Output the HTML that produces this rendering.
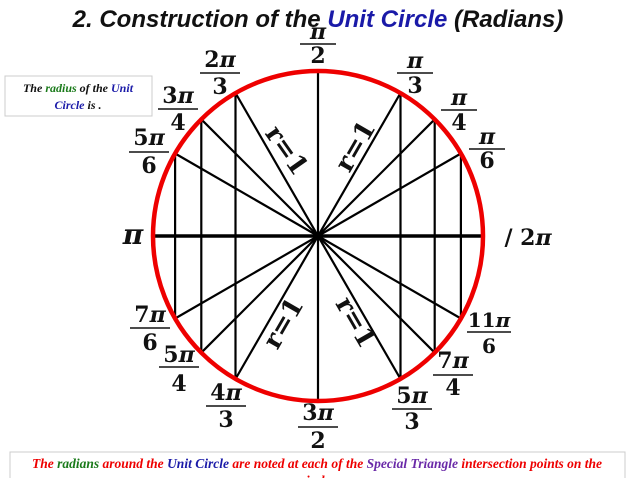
<!DOCTYPE html>
<html><head><meta charset="utf-8"><style>
body{margin:0;width:638px;height:478px;overflow:hidden;background:#fff}
svg{display:block}
</style></head><body>
<svg width="638" height="478" viewBox="0 0 638 478" xmlns="http://www.w3.org/2000/svg">
<text x="318" y="27" text-anchor="middle" font-family="Liberation Sans, sans-serif" font-size="24" font-weight="bold" font-style="italic" fill="#111">2.  Construction of the <tspan fill="#1a1aa8">Unit Circle</tspan> (Radians)</text>
<g stroke="#000" stroke-width="2.2" fill="none">
<line x1="153" y1="236" x2="483" y2="236" stroke-width="3.5"/>
<line x1="318" y1="71" x2="318" y2="401"/>
<line x1="400.5" y1="93" x2="400.5" y2="379"/>
<line x1="235.5" y1="93" x2="235.5" y2="379"/>
<line x1="434.7" y1="119.3" x2="434.7" y2="352.7"/>
<line x1="201.3" y1="119.3" x2="201.3" y2="352.7"/>
<line x1="460.9" y1="153.5" x2="460.9" y2="318.5"/>
<line x1="175.1" y1="153.5" x2="175.1" y2="318.5"/>
<line x1="400.5" y1="93" x2="235.5" y2="379"/>
<line x1="235.5" y1="93" x2="400.5" y2="379"/>
<line x1="434.7" y1="119.3" x2="201.3" y2="352.7"/>
<line x1="201.3" y1="119.3" x2="434.7" y2="352.7"/>
<line x1="460.9" y1="153.5" x2="175.1" y2="318.5"/>
<line x1="175.1" y1="153.5" x2="460.9" y2="318.5"/>
</g>
<circle cx="318" cy="236" r="165" fill="none" stroke="#e00" stroke-width="4.5"/>
<g font-family="DejaVu Serif, Liberation Serif, serif" font-weight="bold" font-size="26" fill="#111" text-anchor="middle">
<text transform="translate(287,150) rotate(55)" y="9">r=1</text>
<text transform="translate(355,146) rotate(-60)" y="9">r=1</text>
<text transform="translate(283,323) rotate(-60)" y="9">r=1</text>
<text transform="translate(356,322) rotate(60)" y="9">r=1</text>
</g>
<g font-family="DejaVu Serif, Liberation Serif, serif" font-weight="bold" font-size="22" fill="#111" text-anchor="middle" stroke="none">
<text x="318" y="39" font-style="italic">π</text><line x1="300" y1="44" x2="336" y2="44" stroke="#111" stroke-width="1.5"/><text x="318" y="63">2</text>
<text x="220" y="67"><tspan>2</tspan><tspan font-style="italic">π</tspan></text><line x1="200" y1="73" x2="240" y2="73" stroke="#111" stroke-width="1.5"/><text x="220" y="94">3</text>
<text x="415" y="68" font-style="italic">π</text><line x1="397" y1="73" x2="433" y2="73" stroke="#111" stroke-width="1.5"/><text x="415" y="93">3</text>
<text x="178" y="103"><tspan>3</tspan><tspan font-style="italic">π</tspan></text><line x1="158" y1="109" x2="198" y2="109" stroke="#111" stroke-width="1.5"/><text x="178" y="130">4</text>
<text x="459" y="105" font-style="italic">π</text><line x1="441" y1="110" x2="477" y2="110" stroke="#111" stroke-width="1.5"/><text x="459" y="130">4</text>
<text x="149" y="145"><tspan>5</tspan><tspan font-style="italic">π</tspan></text><line x1="129" y1="152" x2="169" y2="152" stroke="#111" stroke-width="1.5"/><text x="149" y="173">6</text>
<text x="487" y="144" font-style="italic">π</text><line x1="469" y1="149" x2="505" y2="149" stroke="#111" stroke-width="1.5"/><text x="487" y="168">6</text>
<text x="133" y="244" font-style="italic" font-size="28">π</text>
<text x="528" y="245" font-size="22"><tspan>/ 2</tspan><tspan font-style="italic">π</tspan></text>
<text x="150" y="322"><tspan>7</tspan><tspan font-style="italic">π</tspan></text><line x1="130" y1="328" x2="170" y2="328" stroke="#111" stroke-width="1.5"/><text x="150" y="350">6</text>
<text x="489" y="327" font-size="20"><tspan>11</tspan><tspan font-style="italic">π</tspan></text><line x1="467" y1="332" x2="511" y2="332" stroke="#111" stroke-width="1.5"/><text x="489" y="353" font-size="20">6</text>
<text x="179" y="362"><tspan>5</tspan><tspan font-style="italic">π</tspan></text><line x1="159" y1="367" x2="199" y2="367" stroke="#111" stroke-width="1.5"/><text x="179" y="391">4</text>
<text x="453" y="368"><tspan>7</tspan><tspan font-style="italic">π</tspan></text><line x1="433" y1="375" x2="473" y2="375" stroke="#111" stroke-width="1.5"/><text x="453" y="395">4</text>
<text x="226" y="400"><tspan>4</tspan><tspan font-style="italic">π</tspan></text><line x1="206" y1="406" x2="246" y2="406" stroke="#111" stroke-width="1.5"/><text x="226" y="427">3</text>
<text x="412" y="403"><tspan>5</tspan><tspan font-style="italic">π</tspan></text><line x1="392" y1="409" x2="432" y2="409" stroke="#111" stroke-width="1.5"/><text x="412" y="429">3</text>
<text x="318" y="420"><tspan>3</tspan><tspan font-style="italic">π</tspan></text><line x1="298" y1="427" x2="338" y2="427" stroke="#111" stroke-width="1.5"/><text x="318" y="448">2</text>
</g>
<rect x="5" y="76" width="147" height="40" fill="#fff" stroke="#ccc" stroke-width="1"/>
<g font-family="Liberation Serif, serif" font-style="italic" font-weight="bold" font-size="12" text-anchor="middle" fill="#111">
<text x="78" y="92">The <tspan fill="#1a7a1a">radius</tspan> of the <tspan fill="#1a1aa8">Unit</tspan></text>
<text x="78" y="109"><tspan fill="#1a1aa8">Circle</tspan> is .</text>
</g>
<rect x="10" y="452" width="615" height="30" fill="#fff" stroke="#ccc" stroke-width="1"/>
<text x="317" y="468" text-anchor="middle" font-family="Liberation Serif, serif" font-style="italic" font-weight="bold" font-size="13.5" fill="#e00">The <tspan fill="#1a7a1a">radians</tspan> around the <tspan fill="#1a1aa8">Unit Circle</tspan> are noted at each of the <tspan fill="#6a2aa8">Special Triangle</tspan> intersection points on the</text>
<text x="317" y="485" text-anchor="middle" font-family="Liberation Serif, serif" font-style="italic" font-weight="bold" font-size="13.5" fill="#e00">circle.</text>
</svg>
</body></html>
